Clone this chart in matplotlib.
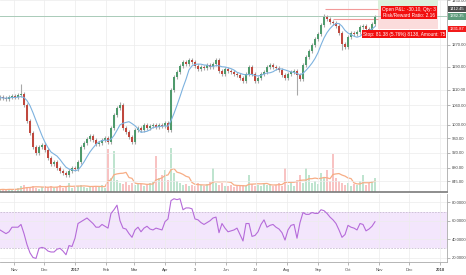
import numpy as np
import pandas as pd
import matplotlib
matplotlib.use('Agg')
import matplotlib.pyplot as plt
import matplotlib.dates as mdates
import matplotlib.transforms as mtrans
from matplotlib.ticker import FixedLocator, FixedFormatter, NullLocator

plt.rcParams['font.family'] = ['Liberation Sans', 'DejaVu Sans']

# ---------------- data ----------------
start_date = '2016-10-18'
step_days = 3
closes = [1085, 1082, 1080, 1088, 1090, 1086, 1092, 1098, 1060, 1010,
          975, 935, 918, 935, 942, 928, 905, 890, 895, 880,
          870, 866, 860, 872, 878, 875, 895, 935, 948, 958,
          966, 955, 945, 948, 956, 960, 950, 990, 1030, 1052,
          1060, 990, 978, 965, 950, 985, 990, 985, 1000, 990,
          995, 1000, 993, 998, 995, 1005, 985, 1110, 1155, 1172,
          1192, 1205, 1200, 1215, 1208, 1192, 1180, 1190, 1185, 1195,
          1190, 1200, 1215, 1175, 1165, 1180, 1175, 1170, 1165, 1160,
          1150, 1140, 1165, 1190, 1165, 1140, 1150, 1165, 1172, 1190,
          1195, 1190, 1185, 1178, 1160, 1150, 1165, 1172, 1175, 1160,
          1145, 1195, 1225, 1248, 1268, 1292, 1312, 1348, 1380, 1372,
          1360, 1355, 1345, 1315, 1272, 1262, 1300, 1315, 1310, 1320,
          1340, 1345, 1330, 1322, 1350, 1382]
volumes = [5, 6, 4, 7, 5, 6, 8, 12, 15, 11,
           9, 13, 8, 7, 10, 12, 11, 13, 8, 11,
           15, 9, 12, 18, 9, 11, 13, 15, 11, 9,
           12, 10, 13, 11, 14, 9, 90, 30, 85, 25,
           18, 17, 21, 15, 18, 15, 18, 17, 13, 15,
           18, 21, 75, 30, 35, 45, 25, 92, 40, 22,
           18, 15, 17, 12, 15, 13, 18, 15, 12, 17,
           21, 50, 18, 15, 18, 13, 12, 15, 11, 12,
           13, 15, 12, 35, 17, 13, 15, 12, 18, 15,
           17, 12, 15, 18, 13, 50, 15, 18, 13, 25,
           35, 18, 50, 35, 18, 22, 17, 40, 30, 45,
           22, 80, 30, 22, 18, 15, 18, 13, 17, 15,
           22, 35, 15, 18, 22, 30]
rsi_values = [50, 48, 46, 48, 53, 53, 53, 56, 46, 34,
              25, 20, 19, 30, 31, 30, 27, 26, 26, 29,
              30, 27, 23, 33, 32, 41, 57, 59, 61, 63,
              60, 57, 53, 53, 56, 54, 52, 68, 72, 77,
              60, 52, 51, 46, 42, 50, 53, 48, 52, 54,
              51, 50, 52, 51, 50, 59, 62, 82, 84, 83,
              84, 72, 74, 74, 73, 62, 61, 58, 56, 58,
              60, 63, 64, 47, 57, 52, 48, 49, 50, 52,
              45, 38, 57, 57, 43, 44, 48, 56, 61, 53,
              55, 56, 53, 51, 47, 39, 50, 55, 56, 41,
              58, 69, 67, 67, 69, 68, 68, 72, 71, 68,
              64, 61, 57, 50, 42, 45, 55, 53, 52, 50,
              57, 56, 49, 51, 54, 59]
spike_high = {7: 1129, 40: 1070, 108: 1392}
spike_low = {99: 1094, 114: 1250}

price_ticks = [845, 880, 920, 960, 1000, 1060, 1110, 1190, 1270, 1450]
rsi_ticks = [20, 40, 60, 80]
month_starts = ['2016-11-01', '2016-12-01', '2017-01-01', '2017-02-01', '2017-03-01',
                '2017-04-01', '2017-05-01', '2017-06-01', '2017-07-01', '2017-08-01',
                '2017-09-01', '2017-10-01', '2017-11-01', '2017-12-01', '2018-01-01']
month_labels = ['Nov', 'Dec', '2017', 'Feb', 'Mar', 'Apr', '3', 'Jun', 'Jul', 'Aug',
                'Sep', 'Oct', 'Nov', 'Dec', '2018']

entry_price = 1412.45
last_price = 1382.35
stop_price = 1331.87
resist_price = 1372
pnl_text = 'Open P&L: -30.10, Qty: 3\nRisk/Reward Ratio: 2.16'
stop_text = 'Stop: 81.38 (5.76%) 8138, Amount: 75'

# ---------------- layout ----------------
W, H = 466, 275
fig = plt.figure(figsize=(W / 100, H / 100), dpi=100)


def rect(l, t, r, b):
    return [l / W, 1 - b / H, (r - l) / W, (b - t) / H]


ax_vol = fig.add_axes(rect(0, 0, 447, 192))
ax = fig.add_axes(rect(0, 0, 447, 192), sharex=ax_vol)
ax_rsi = fig.add_axes(rect(0, 193.5, 447, 262), sharex=ax_vol)
ax_vol.set_zorder(1)
ax.set_zorder(2)
ax.set_facecolor('none')

dates = pd.date_range(start_date, periods=len(closes), freq=f'{step_days}D')
x = mdates.date2num(dates)
d0 = mdates.date2num(pd.Timestamp(start_date))


def dx(px):
    return d0 + px  # 1 px per day in this chart


c = np.array(closes, dtype=float)
o = np.r_[c[0], c[:-1]]
wick = 0.006
hi = np.maximum(o, c) * (1 + wick)
lo = np.minimum(o, c) * (1 - wick)
for i, v in spike_high.items():
    hi[i] = v
for i, v in spike_low.items():
    lo[i] = v
up = c >= o
up_col, dn_col = '#4f9a6c', '#c0483e'

ax.set_yscale('log')
ax.set_ylim(818, 1452)
ax.set_xlim(dx(0), dx(447))

# position tool
ax.fill_between([dx(378), dx(438)], entry_price, 1452, color='#dcf1dc', zorder=1, lw=0)
ax.fill_between([dx(378), dx(438)], stop_price, entry_price, color='#fbdcdc', zorder=1, lw=0)
ax.hlines(entry_price, dx(325), dx(378), color='#f29a9a', lw=0.8, zorder=2)
ax.hlines(resist_price, dx(333), dx(378), color='#f29a9a', lw=0.8, zorder=2)
ax.axhline(last_price, color='#a9cbb8', lw=0.7, zorder=1.5)

# candles
ax.vlines(x, lo, hi, color='#a8a8a8', lw=0.8, zorder=3)
ax.bar(x, np.maximum(np.abs(c - o), 0.5), bottom=np.minimum(o, c), width=1.7,
       color=np.where(up, up_col, dn_col), lw=0, zorder=4)
sma = pd.Series(c).rolling(7, min_periods=1).mean()
ax.plot(x, sma, color='#7db2df', lw=0.8, zorder=5)

# volume
vol = np.array(volumes, dtype=float)
ax_vol.bar(x, vol, width=2.0, color=np.where(up, '#bfe4cf', '#f8c3c3'), lw=0)
vma = pd.Series(vol).rolling(7, min_periods=1).mean()
ax_vol.plot(x, vma, color='#f7ad85', lw=0.9)
ax_vol.set_ylim(0, 400)
ax_vol.set_yticks([])
ax_vol.tick_params(axis='x', bottom=False, labelbottom=False)
for s in ax_vol.spines.values():
    s.set_visible(False)

# labels in the position tool
ax.text(dx(409), 1452 * np.exp(-12.5 / 334), pnl_text, ha='center', va='center',
        fontsize=3.4, color='white', linespacing=1.1, zorder=8,
        bbox=dict(boxstyle='square,pad=0.25', fc='#f20f0f', ec='none'))
ax.text(dx(404), 1452 * np.exp(-34 / 334), stop_text, ha='center', va='center',
        fontsize=3.4, color='white', zorder=8,
        bbox=dict(boxstyle='square,pad=0.25', fc='#f20f0f', ec='none'))

# price axis
ax.yaxis.tick_right()
ax.yaxis.set_major_locator(FixedLocator(price_ticks))
ax.yaxis.set_major_formatter(FixedFormatter([f'{v:.2f}' for v in price_ticks]))
ax.yaxis.set_minor_locator(NullLocator())
ax.tick_params(axis='y', length=2, width=0.5, color='#999999', labelcolor='#444444',
               labelsize=3, pad=1.5)
ax.tick_params(axis='x', bottom=False, labelbottom=False)
ax.grid(True, color='#ececec', lw=0.5, zorder=0)
ax.set_axisbelow(True)
for s in ['left', 'top']:
    ax.spines[s].set_visible(False)
ax.spines['right'].set_color('#aaaaaa')
ax.spines['right'].set_linewidth(0.6)
ax.spines['bottom'].set_color('#7a7a7a')
ax.spines['bottom'].set_linewidth(1.2)

tr = mtrans.blended_transform_factory(ax.transAxes, ax.transData)
for val, fc in [(entry_price, '#4d4d4d'), (last_price, '#5e9c7c'), (stop_price, '#f21b1b')]:
    ax.text(1.006, val, f'{val:.2f}', transform=tr, ha='left', va='center', fontsize=3,
            color='white', clip_on=False, zorder=10,
            bbox=dict(boxstyle='square,pad=0.3', fc=fc, ec='none'))

# RSI pane
ax_rsi.set_ylim(15.1, 89.7)
ax_rsi.axhspan(30, 70, color='#f3e6fc', lw=0, zorder=0.5)
ax_rsi.axhline(70, color='#c9bdd2', lw=0.6, ls=(0, (2, 1.5)), zorder=1)
ax_rsi.axhline(30, color='#c9bdd2', lw=0.6, ls=(0, (2, 1.5)), zorder=1)
ax_rsi.plot(x, rsi_values, color='#b56bd9', lw=0.8, zorder=3)
ax_rsi.yaxis.tick_right()
ax_rsi.set_yticks(rsi_ticks)
ax_rsi.set_yticklabels([f'{v:.4f}' for v in rsi_ticks])
ax_rsi.tick_params(axis='y', length=2, width=0.5, color='#999999', labelcolor='#444444',
                   labelsize=3, pad=1.5)
ax_rsi.grid(True, color='#ececec', lw=0.5, zorder=0)
ax_rsi.set_axisbelow(True)
for s in ['left', 'top']:
    ax_rsi.spines[s].set_visible(False)
for s in ['right', 'bottom']:
    ax_rsi.spines[s].set_color('#aaaaaa')
    ax_rsi.spines[s].set_linewidth(0.6)

ms = mdates.date2num(pd.to_datetime(month_starts))
ax_rsi.set_xticks(ms)
ax_rsi.set_xticklabels(month_labels)
ax_rsi.tick_params(axis='x', length=2, width=0.5, color='#999999', labelcolor='#444444',
                   labelsize=3, pad=2)
for lbl in ax_rsi.get_xticklabels():
    if lbl.get_text() in ('2017', '2018'):
        lbl.set_fontweight('bold')

fig.savefig('out.png', dpi=100)
